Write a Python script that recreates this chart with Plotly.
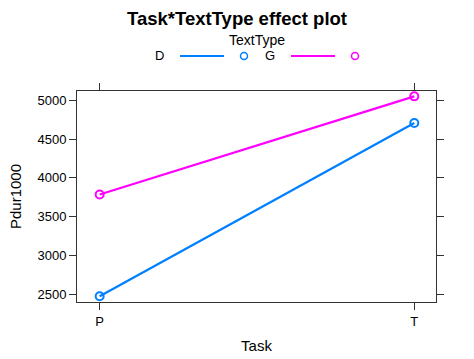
import plotly.graph_objects as go

tasks = ["P", "T"]
text_types = ["D", "G"]
pdur_D = [2474, 4708]
pdur_G = [3786, 5052]
y_ticks = [2500, 3000, 3500, 4000, 4500, 5000]
colors = {"D": "#0080ff", "G": "#ff00ff"}

FONT = "Liberation Sans, Arial, Helvetica, sans-serif"

fig = go.Figure()
for name, vals in zip(text_types, [pdur_D, pdur_G]):
    fig.add_trace(go.Scatter(
        x=[0, 1], y=vals, mode="lines+markers", name=name,
        line=dict(color=colors[name], width=2.2),
        marker=dict(symbol="circle-open", size=8, color=colors[name],
                    line=dict(width=2, color=colors[name])),
        showlegend=False,
    ))

axis_common = dict(
    showline=True, linecolor="#333333", linewidth=1, mirror="allticks",
    ticks="outside", ticklen=7, tickcolor="#333333", tickwidth=1,
    showgrid=False, zeroline=False, automargin=False,
    tickfont=dict(family=FONT, size=13, color="black"),
)

fig.update_xaxes(
    range=[-0.072, 1.069], tickvals=[0, 1], ticktext=tasks,
    title=dict(text="Task", font=dict(family=FONT, size=15, color="black"), standoff=12),
    **axis_common,
)
fig.update_yaxes(
    range=[2400, 5121], tickvals=y_ticks, ticktext=[str(v) for v in y_ticks],
    title=dict(text="Pdur1000", font=dict(family=FONT, size=15, color="black"), standoff=12),
    **axis_common,
)

# legend (lattice-style key) drawn in paper coordinates
W, H = 474, 359
L, R, T, B = 77, 38, 91, 57
pw, ph = W - L - R, H - T - B
def px(x):
    return (x - L) / pw
def py(y):
    return (H - B - y) / ph

annotations = [
    dict(text="<b>Task*TextType effect plot</b>", x=px(237), y=py(18), xref="paper", yref="paper",
         showarrow=False, font=dict(family=FONT, size=18.5, color="black"), xanchor="center", yanchor="middle"),
    dict(text="TextType", x=px(257), y=py(40), xref="paper", yref="paper",
         showarrow=False, font=dict(family=FONT, size=14, color="black"), xanchor="center", yanchor="middle"),
]
shapes = []
key_x = {"D": 159, "G": 270}
for name in text_types:
    x0 = key_x[name]
    annotations.append(dict(text=name, x=px(x0), y=py(56), xref="paper", yref="paper",
                            showarrow=False, font=dict(family=FONT, size=13, color="black"),
                            xanchor="center", yanchor="middle"))
    shapes.append(dict(type="line", xref="paper", yref="paper",
                       x0=px(x0 + 21), x1=px(x0 + 65), y0=py(56), y1=py(56),
                       line=dict(color=colors[name], width=2.2)))
    cx = x0 + 85
    shapes.append(dict(type="circle", xref="paper", yref="paper",
                       x0=px(cx - 3.5), x1=px(cx + 3.5), y0=py(56 - 3.5), y1=py(56 + 3.5),
                       line=dict(color=colors[name], width=1.5)))

fig.update_layout(
    width=W, height=H,
    margin=dict(l=L, r=R, t=T, b=B),
    paper_bgcolor="white", plot_bgcolor="white",
    font=dict(family=FONT, color="black"),
    annotations=annotations, shapes=shapes,
    showlegend=False,
)

fig.write_html("out.html", config={"displayModeBar": False},
               post_script="document.body.style.margin='0px';")
